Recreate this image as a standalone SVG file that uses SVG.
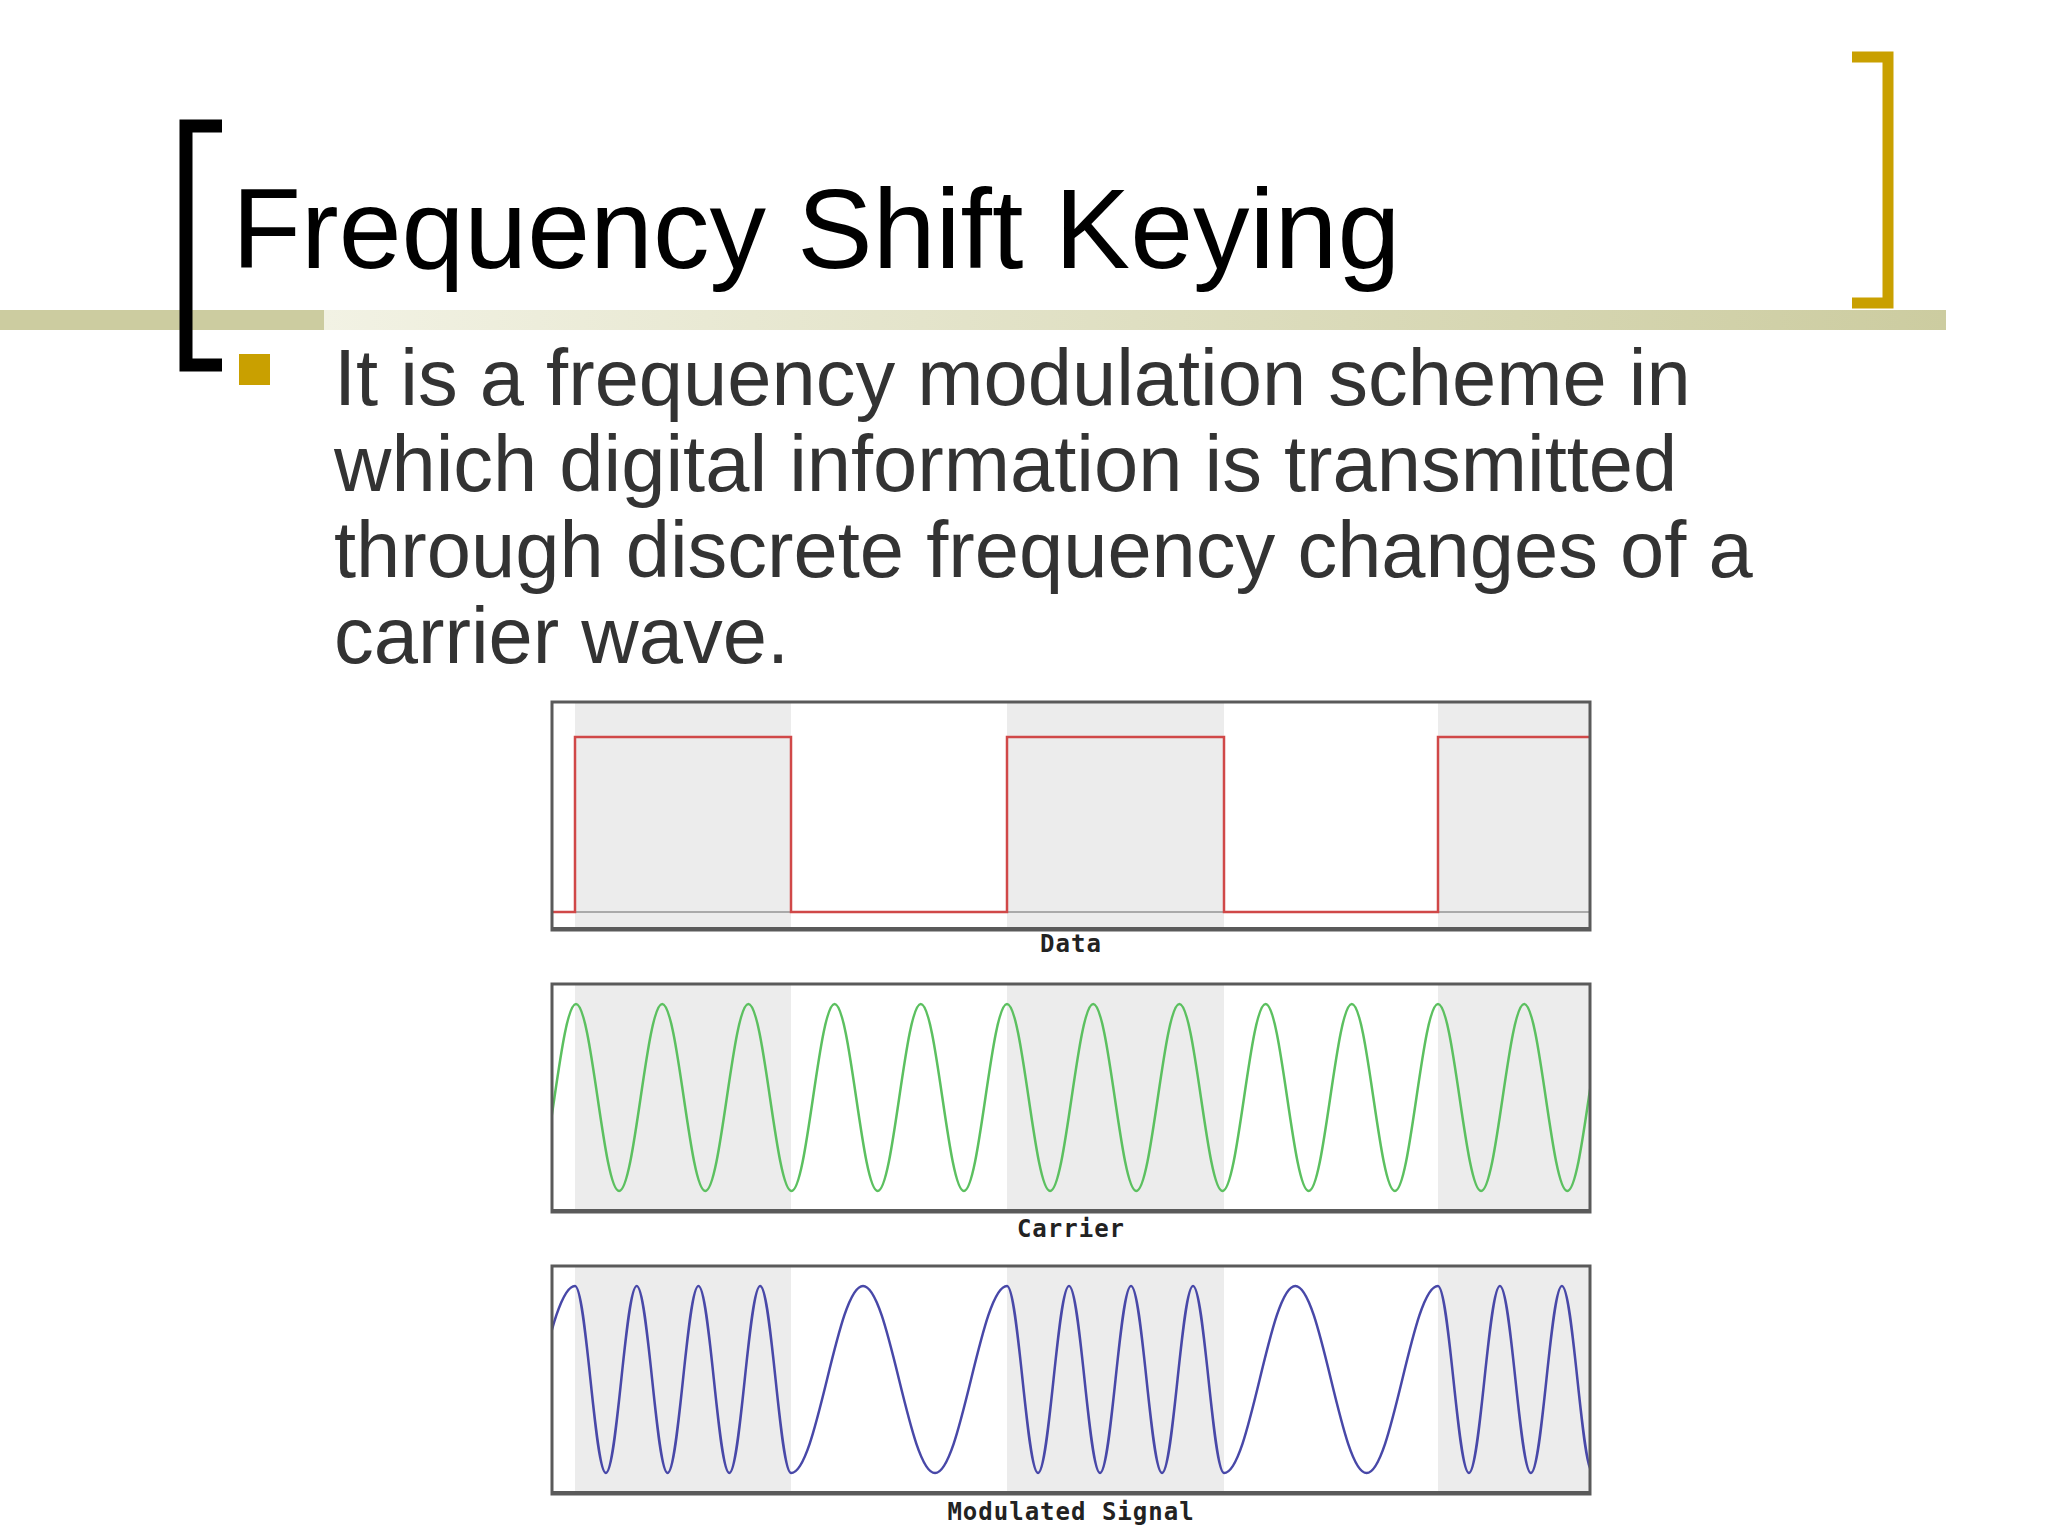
<svg xmlns="http://www.w3.org/2000/svg" width="2048" height="1536" viewBox="0 0 2048 1536">
<defs>
<linearGradient id="bar" x1="0" x2="1" y1="0" y2="0"><stop offset="0" stop-color="#f2f2e4"/><stop offset="1" stop-color="#cccca0"/></linearGradient>
<clipPath id="c1"><rect x="553" y="703" width="1036" height="226"/></clipPath>
<clipPath id="c2"><rect x="553" y="985" width="1036" height="226"/></clipPath>
<clipPath id="c3"><rect x="553" y="1267" width="1036" height="226"/></clipPath>
<style>
.panel{fill:none;stroke:#5a5a5a;stroke-width:3}
.band{fill:#ececec}
.lbl{font-family:"DejaVu Sans Mono",monospace;font-size:24px;font-weight:bold;fill:#222;text-anchor:middle;letter-spacing:1px}
.body{font-family:"Liberation Sans",Arial,sans-serif;font-size:79.5px;fill:#333}
</style>
</defs>
<rect width="2048" height="1536" fill="#fff"/>
<g id="header">
<rect x="0" y="310" width="324" height="20" fill="#cccca0"/>
<rect x="324" y="310" width="1622" height="20" fill="url(#bar)"/>
<path d="M222,126 H186 V365 H222" fill="none" stroke="#000" stroke-width="13"/>
<path d="M1852,57 H1888 V303 H1852" fill="none" stroke="#c9a000" stroke-width="11"/>
<text x="232" y="268" font-family="Liberation Sans,Arial,sans-serif" font-size="113" fill="#000">Frequency Shift Keying</text>
</g>
<g id="bullet">
<rect x="239" y="354" width="31" height="31" fill="#c9a000"/>
<text class="body"><tspan x="334" y="405">It is a frequency modulation scheme in</tspan><tspan x="334" y="491">which digital information is transmitted</tspan><tspan x="334" y="577">through discrete frequency changes of a</tspan><tspan x="334" y="663">carrier wave.</tspan></text>
</g>
<g id="data">
<rect x="575" y="703" width="216" height="226" class="band"/><rect x="1007" y="703" width="217" height="226" class="band"/><rect x="1438" y="703" width="151" height="226" class="band"/>
<line x1="553" y1="912" x2="1589" y2="912" stroke="#aaa" stroke-width="2"/>
<path clip-path="url(#c1)" d="M553,912 H575 V737 H791 V912 H1007 V737 H1224 V912 H1438 V737 H1600" fill="none" stroke="#d04848" stroke-width="2.5"/>
<rect x="552" y="702" width="1038" height="228" class="panel"/>
<line x1="552" y1="929" x2="1590" y2="929" stroke="#5a5a5a" stroke-width="4"/>
<text x="1071" y="952" class="lbl">Data</text>
</g>
<g id="carrier">
<rect x="575" y="985" width="216" height="226" class="band"/><rect x="1007" y="985" width="217" height="226" class="band"/><rect x="1438" y="985" width="151" height="226" class="band"/>
<path clip-path="url(#c2)" fill="none" stroke="#5cc060" stroke-width="2.5" d="M532.9,1191
c15.7,0 27.4,-187 43.1,-187 c15.7,0 27.4,187 43.1,187
c15.7,0 27.4,-187 43.1,-187 c15.7,0 27.4,187 43.1,187
c15.7,0 27.4,-187 43.1,-187 c15.7,0 27.4,187 43.1,187
c15.7,0 27.4,-187 43.1,-187 c15.7,0 27.4,187 43.1,187
c15.7,0 27.4,-187 43.1,-187 c15.7,0 27.4,187 43.1,187
c15.7,0 27.4,-187 43.1,-187 c15.7,0 27.4,187 43.1,187
c15.7,0 27.4,-187 43.1,-187 c15.7,0 27.4,187 43.1,187
c15.7,0 27.4,-187 43.1,-187 c15.7,0 27.4,187 43.1,187
c15.7,0 27.4,-187 43.1,-187 c15.7,0 27.4,187 43.1,187
c15.7,0 27.4,-187 43.1,-187 c15.7,0 27.4,187 43.1,187
c15.7,0 27.4,-187 43.1,-187 c15.7,0 27.4,187 43.1,187
c15.7,0 27.4,-187 43.1,-187 c15.7,0 27.4,187 43.1,187
c15.7,0 27.4,-187 43.1,-187 c15.7,0 27.4,187 43.1,187"/>
<rect x="552" y="984" width="1038" height="228" class="panel"/>
<line x1="552" y1="1211" x2="1590" y2="1211" stroke="#5a5a5a" stroke-width="4"/>
<text x="1071" y="1237" class="lbl">Carrier</text>
</g>
<g id="modulated">
<rect x="575" y="1267" width="216" height="226" class="band"/><rect x="1007" y="1267" width="217" height="226" class="band"/><rect x="1438" y="1267" width="151" height="226" class="band"/>
<path clip-path="url(#c3)" fill="none" stroke="#4848a8" stroke-width="2.5" d="M503,1473
c26.22,0 45.78,-187 72,-187
c11.24,0 19.62,187 30.86,187 c11.24,0 19.62,-187 30.86,-187
c11.24,0 19.62,187 30.86,187 c11.24,0 19.62,-187 30.86,-187
c11.24,0 19.62,187 30.86,187 c11.24,0 19.62,-187 30.86,-187
c11.24,0 19.62,187 30.86,187
c26.22,0 45.78,-187 72,-187 c26.22,0 45.78,187 72,187 c26.22,0 45.78,-187 72,-187
c11.29,0 19.71,187 31,187 c11.29,0 19.71,-187 31,-187
c11.29,0 19.71,187 31,187 c11.29,0 19.71,-187 31,-187
c11.29,0 19.71,187 31,187 c11.29,0 19.71,-187 31,-187
c11.29,0 19.71,187 31,187
c25.97,0 45.33,-187 71.3,-187 c25.97,0 45.33,187 71.3,187 c25.97,0 45.33,-187 71.3,-187
c11.29,0 19.71,187 31,187 c11.29,0 19.71,-187 31,-187
c11.29,0 19.71,187 31,187 c11.29,0 19.71,-187 31,-187
c11.29,0 19.71,187 31,187 c11.29,0 19.71,-187 31,-187"/>
<rect x="552" y="1266" width="1038" height="228" class="panel"/>
<line x1="552" y1="1493" x2="1590" y2="1493" stroke="#5a5a5a" stroke-width="4"/>
<text x="1071" y="1520" class="lbl">Modulated Signal</text>
</g>
</svg>
